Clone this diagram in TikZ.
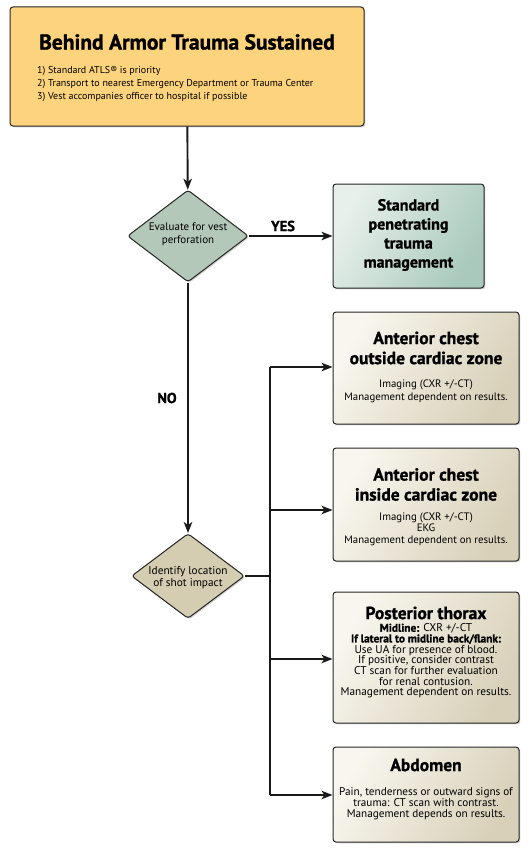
\documentclass[tikz,border=0pt]{standalone}
\usepackage{fontspec}
\setmainfont{PT Sans}[BoldFeatures={FakeBold=1.2}]
\usetikzlibrary{arrows.meta, shapes.geometric, shadows}

\definecolor{armorgold}{HTML}{FDD37D}
\definecolor{evalgreen}{HTML}{B3C8B9}
\definecolor{locatetan}{HTML}{D5CDB1}
\definecolor{penlight}{HTML}{E8F0EC}
\definecolor{pendark}{HTML}{A9C9BC}
\definecolor{zonelight}{HTML}{F8F6EE}
\definecolor{zonedark}{HTML}{D8D0B9}

\begin{document}
\begin{tikzpicture}
      [x=1pt,y=-1pt
      ,box/.style={draw=black!85,line width=1pt,rounded corners=3pt,
                   drop shadow={opacity=.35,shadow xshift=1.3pt,shadow yshift=-1.3pt}}
      ,zone/.style={box,left color=zonelight,right color=zonedark,shading angle=60,
                    minimum width=186pt}
      ,dec/.style={diamond,box,inner sep=0}
      ,ttl/.style={inner sep=0,align=center,font=\bfseries\fontsize{17.5}{20}\selectfont}
      ,txt/.style={inner sep=0,align=center,font=\fontsize{10.8}{11.5}\selectfont}
      ,lin/.style={line width=1.9pt,color=black!90}
      ,arr/.style={lin,-{Stealth[length=11pt,width=8.5pt,inset=3pt]}}]
        \useasboundingbox (0,0) rectangle (529,851);
        % boxes
        \node[box,fill=armorgold,minimum width=354pt,minimum height=119pt] (trauma) at (187,66.5) {};
        \node[dec,fill=evalgreen,minimum width=121pt,minimum height=92pt] (vest) at (188,236) {};
        \node[box,left color=penlight,right color=pendark,shading angle=60,
              minimum width=151pt,minimum height=104pt] (pen) at (408.5,236) {};
        \node[dec,fill=locatetan,minimum width=113pt,minimum height=85pt] (impact) at (188,576) {};
        \node[zone,minimum height=112pt] (outside) at (426,368) {};
        \node[zone,minimum height=113pt] (inside) at (426,504.5) {};
        \node[zone,minimum height=131pt] (thorax) at (426,657.5) {};
        \node[zone,minimum height=95pt] (abdomen) at (426,794.5) {};
        % texts
        \node[ttl,font=\bfseries\fontsize{21.5}{24}\selectfont] (traumat) at (187,42) {Behind Armor Trauma Sustained};
        \node[txt,align=left,anchor=west,font=\fontsize{10}{12.8}\selectfont] (traumab) at (37,84)
          {1) Standard ATLS® is priority\\
           2) Transport to nearest Emergency Department or Trauma Center\\
           3) Vest accompanies officer to hospital if possible};
        \node[txt,font=\fontsize{11}{13}\selectfont] (vestt) at (188,234.5) {Evaluate for vest\\perforation};
        \node[ttl,font=\bfseries\fontsize{16}{19}\selectfont] (pent) at (408.5,235)
          {Standard\\penetrating\\trauma\\management};
        \node[txt,font=\fontsize{11.3}{11.5}\selectfont] (impactt) at (188,577.5) {Identify location\\of shot impact};
        \node[ttl] (outsidet) at (426,348) {Anterior chest\\outside cardiac zone};
        \node[txt,font=\fontsize{10.8}{13}\selectfont] (outsideb) at (426,391.5)
          {Imaging (CXR +/-CT)\\Management dependent on results.};
        \node[ttl] (insidet) at (426,484.5) {Anterior chest\\inside cardiac zone};
        \node[txt] (insideb) at (426,529)
          {Imaging (CXR +/-CT)\\EKG\\Management dependent on results.};
        \node[ttl] (thoraxt) at (426,613) {Posterior thorax};
        \node[txt,font=\fontsize{11.3}{10.7}\selectfont] (thoraxb) at (426,661)
          {\textbf{Midline:} CXR +/-CT\\
           \textbf{If lateral to midline back/flank:}\\
           Use UA for presence of blood.\\
           If positive, consider contrast\\
           CT scan for further evaluation\\
           for renal contusion.\\
           Management dependent on results.};
        \node[ttl] (abdoment) at (426,765) {Abdomen};
        \node[txt,font=\fontsize{11.2}{11}\selectfont] (abdomenb) at (426,804)
          {Pain, tenderness or outward signs of\\
           trauma: CT scan with contrast.\\
           Management depends on results.};
        \node[inner sep=0,font=\bfseries\fontsize{14.5}{16}\selectfont] (yes) at (283,226) {YES};
        \node[inner sep=0,font=\bfseries\fontsize{14.5}{16}\selectfont] (no) at (167,398) {NO};
        % connectors
        \coordinate (T0) at (270,576);
        \coordinate (T1) at (270,367);
        \coordinate (T2) at (270,510);
        \coordinate (T3) at (270,659);
        \coordinate (T4) at (270,795);
        \draw[arr] (trauma) -- (vest);
        \draw[arr] (vest) -- (pen);
        \draw[arr] (vest) -- (impact);
        \draw[lin] (impact.east) -- (T0);
        \draw[lin] (T1) -- (T4);
        \foreach \t/\b in {T1/outside,T2/inside,T3/thorax,T4/abdomen}{
          \draw[arr] (\t) -- (\t -| \b.west);
        }
      \end{tikzpicture}
\end{document}
